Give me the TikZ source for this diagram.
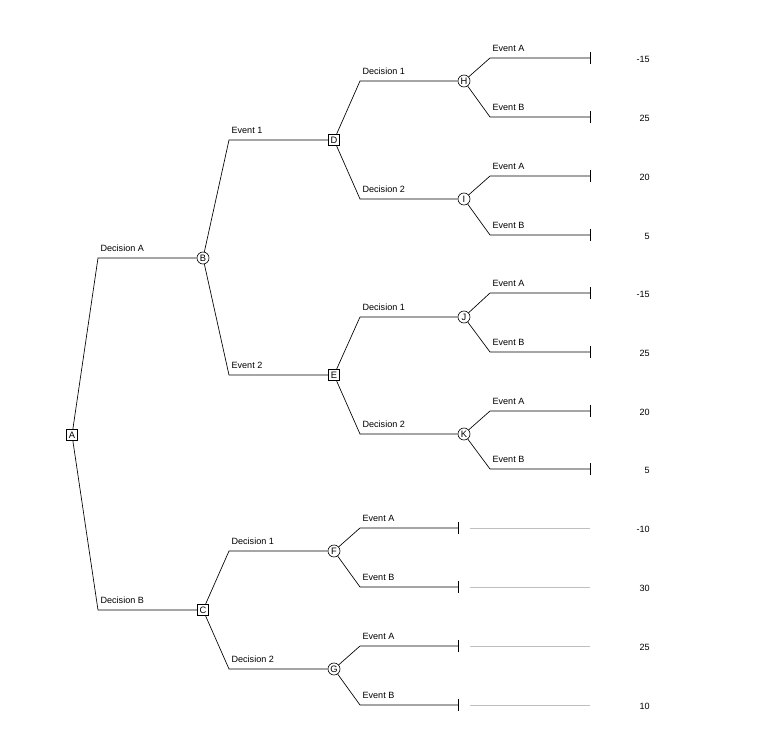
\documentclass[tikz,border=0pt]{standalone}
\usepackage{fontspec}
\setmainfont{Liberation Sans}
\begin{document}
\begin{tikzpicture}[x=0.75pt,y=-0.75pt,
  dec/.style={draw,line width=0.6pt,minimum size=8.5pt,inner sep=0pt,font=\fontsize{7}{7}\selectfont},
  chn/.style={draw,circle,line width=0.5pt,minimum size=9pt,inner sep=0pt,font=\fontsize{7}{7}\selectfont},
  br/.style={line width=0.5pt},
  lbl/.style={font=\fontsize{6.8}{8}\selectfont,anchor=south west,inner sep=1pt},
  val/.style={font=\fontsize{6.8}{8}\selectfont,anchor=east,inner sep=0pt},
  grey/.style={draw=black!25,line width=0.5pt}]
\useasboundingbox (0,0) rectangle (761,735);
\node[dec] (A) at (72,435) {A};
\node[chn] (B) at (203,258) {B};
\node[dec] (C) at (203,610) {C};
\node[dec] (D) at (334,140) {D};
\node[dec] (E) at (334,375) {E};
\node[chn] (F) at (334,551) {F};
\node[chn] (G) at (334,669) {G};
\node[chn] (H) at (464,81) {H};
\node[chn] (I) at (464,199) {I};
\node[chn] (J) at (464,317) {J};
\node[chn] (K) at (464,434) {K};
\foreach \p/\c/\kx/\ky/\t in {A/B/98/258/Decision A, A/C/98/610/Decision B,
  B/D/229/140/Event 1, B/E/229/375/Event 2,
  C/F/229/551/Decision 1, C/G/229/669/Decision 2,
  D/H/360/81/Decision 1, D/I/360/199/Decision 2,
  E/J/360/317/Decision 1, E/K/360/434/Decision 2}{
  \coordinate (k\c) at (\kx,\ky);
  \draw[br] (\p) -- (k\c) -- (\c);
  \node[lbl] at (\kx+1,\ky-5) {\t};
}
\foreach \p/\y/\t/\v/\n in {H/58/Event A/-15/1, H/117/Event B/25/2,
  I/176/Event A/20/3, I/235/Event B/5/4,
  J/293/Event A/-15/5, J/352/Event B/25/6,
  K/411/Event A/20/7, K/469/Event B/5/8}{
  \coordinate (q\n) at (490,\y);
  \coordinate (t\n) at (590,\y);
  \draw[br] (\p) -- (q\n) -- (t\n);
  \draw[br] (590,\y-6) -- (590,\y+6);
  \node[lbl] at (490+1,\y-5) {\t};
  \node[val] at (650,\y+1) {\v};
}
\foreach \p/\y/\t/\v/\n in {F/528/Event A/-10/9, F/587/Event B/30/10,
  G/646/Event A/25/11, G/705/Event B/10/12}{
  \coordinate (q\n) at (360,\y);
  \coordinate (t\n) at (458,\y);
  \coordinate (g\n) at (470,\y);
  \coordinate (h\n) at (590,\y);
  \draw[br] (\p) -- (q\n) -- (t\n);
  \draw[br] (458,\y-6) -- (458,\y+6);
  \draw[grey] (g\n) -- (h\n);
  \node[lbl] at (360+1,\y-5) {\t};
  \node[val] at (650,\y+1) {\v};
}
\end{tikzpicture}
\end{document}
